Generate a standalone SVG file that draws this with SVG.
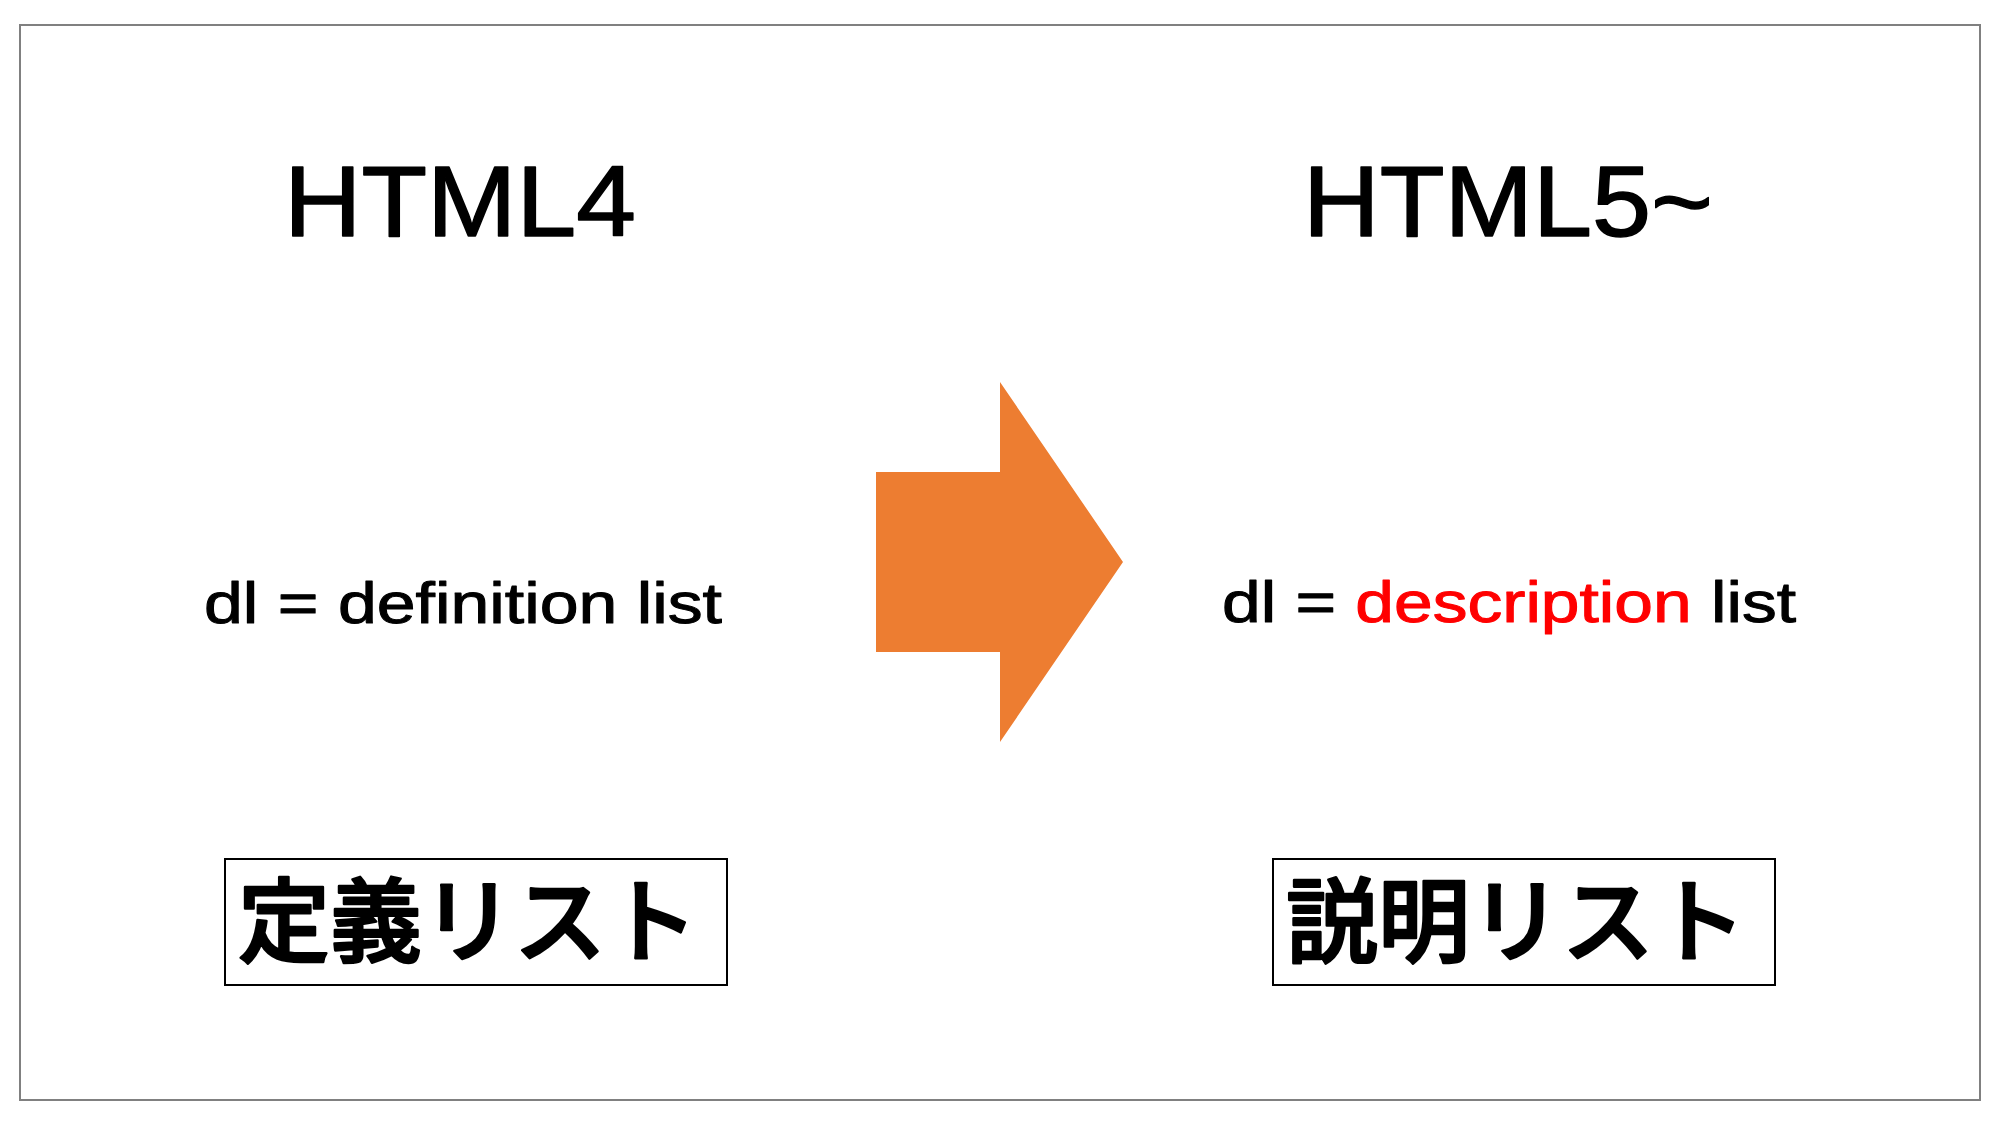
<svg xmlns="http://www.w3.org/2000/svg" width="2000" height="1125" viewBox="0 0 2000 1125">
  <style>
    .frame { fill: #ffffff; stroke: #808080; stroke-width: 2; }
    .title { font-family: "Liberation Sans", "Noto Sans", sans-serif; font-size: 100px; fill: #000000; stroke: #000000; stroke-width: 1.5; stroke-linejoin: round; }
    .def { font-family: "Liberation Sans", "Noto Sans", sans-serif; font-size: 57px; fill: #000000; stroke: #000000; stroke-width: 1; stroke-linejoin: round; }
    .red { fill: #ff0000; stroke: #ff0000; }
    .box { fill: #ffffff; stroke: #000000; stroke-width: 2; }
    .jp { font-family: "Noto Sans CJK JP", "Noto Sans CJK SC", sans-serif; font-size: 92px; font-weight: 500; fill: #000000; stroke: #000000; stroke-width: 2.5; stroke-linejoin: round; text-anchor: middle; }
    .arrow { fill: #ed7d31; }
  </style>
  <rect x="0" y="0" width="2000" height="1125" fill="#ffffff"/>
  <rect class="frame" x="20" y="25" width="1960" height="1075"/>

  <g id="html4">
    <text class="title" x="284" y="236" textLength="352" lengthAdjust="spacingAndGlyphs">HTML4</text>
  </g>
  <g id="html5">
    <text class="title" x="1303" y="236" textLength="410" lengthAdjust="spacingAndGlyphs">HTML5~</text>
  </g>

  <g id="def-left">
    <text class="def" x="204" y="623" textLength="518" lengthAdjust="spacingAndGlyphs">dl = definition list</text>
  </g>
  <g id="def-right">
    <text class="def" x="1222" y="622" textLength="574" lengthAdjust="spacingAndGlyphs">dl = <tspan class="red">description</tspan> list</text>
  </g>

  <g id="box-left">
    <rect class="box" x="225" y="859" width="502" height="126"/>
    <text class="jp" x="468" y="955">定義リスト</text>
  </g>
  <g id="box-right">
    <rect class="box" x="1273" y="859" width="502" height="126"/>
    <text class="jp" x="1516" y="955">説明リスト</text>
  </g>

  <g id="connectors">
    <polygon class="arrow" points="876,472 1000,472 1000,382 1123,562 1000,742 1000,652 876,652"/>
  </g>
</svg>
